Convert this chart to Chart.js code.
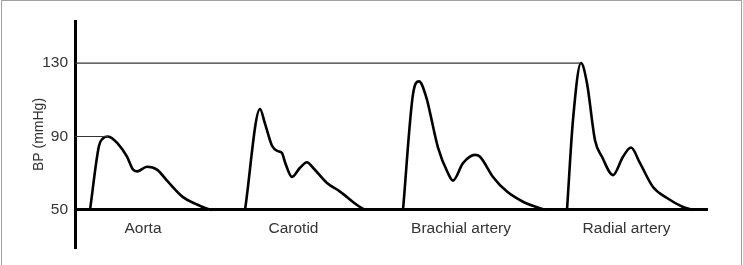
<!DOCTYPE html>
<html>
<head>
<meta charset="utf-8">
<script src="https://cdn.jsdelivr.net/npm/chart.js@4"></script>
<style>
body{margin:0;background:#fff;}
#wrap{position:relative;width:743px;height:265px;overflow:hidden;}
#frame{position:absolute;left:1px;top:0;width:739px;height:270px;border:1px solid #a0a0a0;pointer-events:none;}
</style>
</head>
<body>
<div id="wrap">
<canvas id="bp" width="743" height="265"></canvas>
<div id="frame"></div>
</div>
<script>
// pulse waveforms, time in arbitrary units along the axis, pressure in mmHg
var aortaT=[15,24,28,33,43,52,58,62,72,82,92,108,122,133,137];
var aortaBP=[50,85,89,90,86,79,72,71,73.5,72,66,57,53,50.5,50];
var carotidT=[170,185,190,197,203,207,210,217,225,232,238,252,265,282,290];
var carotidBP=[50,105,97,85,82,81,76,68,73,76,73,64.7,60,52.7,50];
var brachialT=[328,338,344,352,355,363,373,378,388,400,405,418,432,448,462,470];
var brachialBP=[50,113,120,110,103,84,70,66,75.5,80,79,68,60,54.5,51.5,50];
var radialT=[492,498,506,512,520,527,538,548,556,565,578,592,608,618];
var radialBP=[50,99,130,119,88,79,69,79,84,75.5,62.5,56.5,51.6,50];

var siteNames=["Aorta","Carotid","Brachial artery","Radial artery"];
var siteT=[68,218.5,386,551.5];
var bpTicks=[50,90,130];

function pts(t,v){
  var out=[];
  for(var i=0;i<t.length;i++){ out.push({x:t[i],y:v[i]}); }
  return out;
}
function wave(t,v){
  return {data:pts(t,v),borderColor:"#000",borderWidth:2.6,pointRadius:0,
    cubicInterpolationMode:"monotone",fill:false};
}
function refLine(t,v){
  return {data:pts(t,v),borderColor:"#333",borderWidth:1.2,pointRadius:0,tension:0,fill:false};
}

var font="'Liberation Sans', Arial, sans-serif";
new Chart(document.getElementById("bp"),{
  type:"line",
  data:{datasets:[
    refLine([0,radialT[2]],[130,130]),
    refLine([0,aortaT[3]],[90,90]),
    wave(aortaT,aortaBP),
    wave(carotidT,carotidBP),
    wave(brachialT,brachialBP),
    wave(radialT,radialBP)
  ]},
  options:{
    responsive:false,
    animation:false,
    layout:{padding:{left:0,top:21,right:36,bottom:17}},
    plugins:{legend:{display:false},tooltip:{enabled:false}},
    scales:{
      x:{
        type:"linear",min:0,max:632,
        position:{y:50},
        grid:{display:false,drawTicks:false},
        border:{display:true,color:"#000",width:3},
        afterBuildTicks:function(s){ s.ticks=siteT.map(function(v){return {value:v};}); },
        afterFit:function(s){ s.height=0; },
        ticks:{
          autoSkip:false,maxRotation:0,padding:9,color:"#333",
          font:{family:font,size:15.5},
          callback:function(v,i){ return siteNames[i]; }
        }
      },
      y:{
        min:29.3,max:152.9,
        grid:{display:false,drawTicks:false},
        border:{display:true,color:"#000",width:3},
        afterBuildTicks:function(s){ s.ticks=bpTicks.map(function(v){return {value:v};}); },
        afterFit:function(s){ s.width=75; },
        ticks:{padding:7,color:"#333",font:{family:font,size:15.5}},
        title:{display:true,text:"BP (mmHg)",color:"#333",
          font:{family:font,size:14},padding:{top:31,bottom:0}}
      }
    }
  }
});
</script>
</body>
</html>
